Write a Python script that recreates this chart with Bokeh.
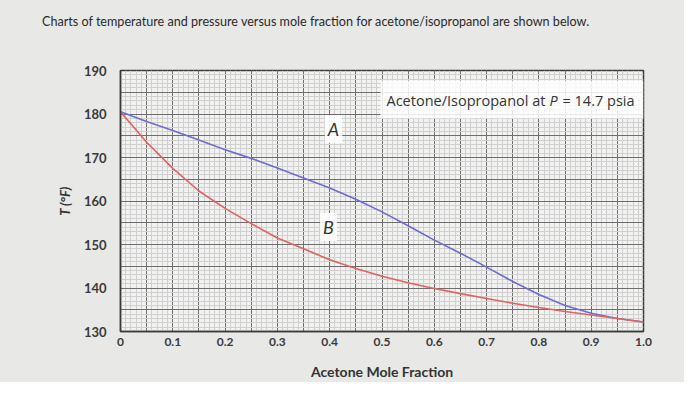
from bokeh.plotting import figure
from bokeh.models import FixedTicker, Label, BoxAnnotation, Div
from bokeh.layouts import column
from bokeh.embed import file_html
from bokeh.resources import INLINE

# ---- data ----
mole_fraction = [0.0, 0.05, 0.1, 0.15, 0.2, 0.25, 0.3, 0.35, 0.4, 0.45, 0.5,
                 0.55, 0.6, 0.65, 0.7, 0.75, 0.8, 0.85, 0.9, 0.95, 1.0]
dew_T = [180.5, 178.3, 176.2, 174.0, 171.8, 169.8, 167.6, 165.3, 163.0, 160.4, 157.5,
         154.3, 151.0, 148.0, 144.8, 141.5, 138.5, 136.0, 134.2, 133.0, 132.2]
bubble_T = [180.5, 173.5, 167.5, 162.3, 158.3, 154.8, 151.5, 149.0, 146.5, 144.5, 142.7,
            141.2, 139.9, 138.7, 137.6, 136.5, 135.5, 134.6, 133.8, 133.0, 132.2]
x_ticks = [0, 0.1, 0.2, 0.3, 0.4, 0.5, 0.6, 0.7, 0.8, 0.9, 1.0]
x_tick_labels = ["0", "0.1", "0.2", "0.3", "0.4", "0.5", "0.6", "0.7", "0.8", "0.9", "1.0"]
y_ticks = [130, 140, 150, 160, 170, 180, 190]
heading = "Charts of temperature and pressure versus mole fraction for acetone/isopropanol are shown below."

FONT = "Lato"
BG = "#e8e8e6"
W = 684
DIV_H = 40
FL, FR, FT, FB = 120, 643, 70, 332   # frame edges (page px)
H = 382 - DIV_H
ft, fb = FT - DIV_H, FB - DIV_H       # frame edges inside the figure

div = Div(text=heading, width=W, height=DIV_H, margin=0,
          styles={"font-family": FONT, "font-size": "12.6px", "color": "#2a2a2a",
                  "background-color": BG, "padding-left": "42px", "padding-top": "14px",
                  "box-sizing": "border-box", "line-height": "16px"})

p = figure(width=W, height=H, x_range=(0, 1), y_range=(130, 190),
           output_backend="svg", toolbar_location=None, margin=0,
           min_border_left=FL, min_border_right=W - FR,
           min_border_top=ft, min_border_bottom=H - fb)
p.border_fill_color = BG
p.background_fill_color = "#f2f2f0"
p.outline_line_color = "#3a3a3a"
p.outline_line_width = 1.5

# grid
p.xgrid.ticker = FixedTicker(ticks=[i * 0.05 for i in range(21)],
                             minor_ticks=[i * 0.01 for i in range(101)])
p.ygrid.ticker = FixedTicker(ticks=list(range(130, 191, 5)),
                             minor_ticks=list(range(130, 191, 1)))
for g in (p.xgrid, p.ygrid):
    g.grid_line_color = "#6e6e6e"
    g.grid_line_width = 1
    g.minor_grid_line_color = "#d0d0d0"
    g.minor_grid_line_width = 1

# axes
p.xaxis.ticker = FixedTicker(ticks=x_ticks)
p.xaxis.major_label_overrides = {t: l for t, l in zip(x_ticks, x_tick_labels)}
p.yaxis.ticker = FixedTicker(ticks=y_ticks)
for ax in (p.xaxis, p.yaxis):
    ax.axis_line_color = "#3a3a3a"
    ax.axis_line_width = 1.5
    ax.major_tick_line_color = None
    ax.minor_tick_line_color = None
    ax.major_label_text_font = FONT
    ax.major_label_text_font_style = "bold"
    ax.major_label_text_color = "#3a3a3a"
    ax.axis_label_text_font = FONT
    ax.axis_label_text_font_style = "bold"
    ax.axis_label_text_color = "#333333"
p.xaxis.major_label_text_font_size = "12px"
p.yaxis.major_label_text_font_size = "13px"
p.xaxis.major_label_standoff = 0
p.yaxis.major_label_standoff = 8
p.xaxis.axis_label = "Acetone Mole Fraction"
p.xaxis.axis_label_text_font_size = "14px"
p.xaxis.axis_label_standoff = 14
p.yaxis.axis_label = "T (°F)"
p.yaxis.axis_label_text_font_size = "13px"
p.yaxis.axis_label_text_font_style = "bold italic"
p.yaxis.axis_label_standoff = 8

# curves
p.line(mole_fraction, dew_T, line_color="#6c6cd6", line_width=1.6)
p.line(mole_fraction, bubble_T, line_color="#e06262", line_width=1.6)

# helpers to place annotation texts by page pixel
def px_x(px):
    return (px - FL) / float(FR - FL)

def px_y(py):
    return 190 - (py - FT) * 60.0 / (FB - FT)

# A / B labels
for txt, cx, cy in (("A", 333, 129), ("B", 328, 227)):
    p.add_layout(Label(x=px_x(cx), y=px_y(cy), text=txt, text_align="center",
                       text_baseline="middle", text_font=FONT, text_font_size="18px",
                       text_font_style="italic", text_color="#333333",
                       background_fill_color="#ffffff", background_fill_alpha=0.9,
                       padding=3))

# legend-like box
p.add_layout(BoxAnnotation(left=px_x(380), right=1.0, top=px_y(80), bottom=px_y(118),
                           fill_color="#ffffff", fill_alpha=0.85, line_color=None))
TX = 386
p.add_layout(Label(x=px_x(TX), y=px_y(100), text="Acetone/Isopropanol at",
                   text_align="left", text_baseline="middle", text_font="Open Sans",
                   text_font_size="14.5px", text_color="#333333"))
p.add_layout(Label(x=px_x(TX + 163), y=px_y(100), text="P",
                   text_align="left", text_baseline="middle", text_font="Open Sans",
                   text_font_size="14.5px", text_font_style="italic", text_color="#333333"))
p.add_layout(Label(x=px_x(TX + 176), y=px_y(100), text="= 14.7 psia",
                   text_align="left", text_baseline="middle", text_font="Open Sans",
                   text_font_size="14.5px", text_color="#333333"))

layout = column(div, p, spacing=0, margin=0, styles={"background-color": BG})
open("out.html", "w").write(file_html(layout, INLINE))
